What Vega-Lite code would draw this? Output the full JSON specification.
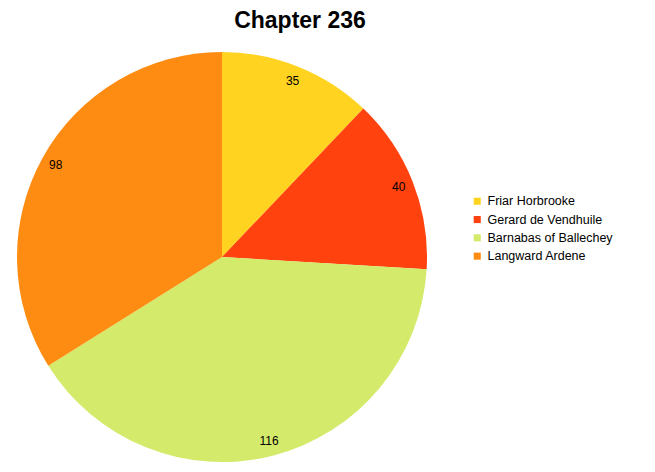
{
  "$schema": "https://vega.github.io/schema/vega-lite/v6.json",
  "autosize": "none",
  "width": 410,
  "height": 410,
  "padding": {"left": 17, "top": 52, "right": 228, "bottom": 10},
  "background": "white",
  "config": {"view": {"stroke": null}, "font": "Liberation Sans"},
  "title": {
    "text": "Chapter 236",
    "fontSize": 23,
    "fontWeight": "bold",
    "font": "Liberation Sans",
    "color": "#000000",
    "anchor": "middle",
    "dx": 78,
    "offset": 19
  },
  "data": {
    "values": [
      {"name": "Friar Horbrooke", "value": 35, "order": 1},
      {"name": "Gerard de Vendhuile", "value": 40, "order": 2},
      {"name": "Barnabas of Ballechey", "value": 116, "order": 3},
      {"name": "Langward Ardene", "value": 98, "order": 4}
    ]
  },
  "encoding": {
    "theta": {"field": "value", "type": "quantitative", "stack": true},
    "order": {"field": "order", "type": "quantitative"}
  },
  "layer": [
    {
      "mark": {"type": "arc"},
      "encoding": {
        "color": {
          "field": "name",
          "type": "nominal",
          "sort": ["Friar Horbrooke", "Gerard de Vendhuile", "Barnabas of Ballechey", "Langward Ardene"],
          "scale": {
            "domain": ["Friar Horbrooke", "Gerard de Vendhuile", "Barnabas of Ballechey", "Langward Ardene"],
            "range": ["#FFD320", "#FF420E", "#D4EA6B", "#FF8C12"]
          },
          "legend": {
            "title": null,
            "orient": "none",
            "legendX": 454,
            "legendY": 143,
            "symbolType": "square",
            "symbolSize": 50,
            "symbolStrokeWidth": 0,
            "labelFontSize": 12.5,
            "labelFont": "Liberation Sans",
            "labelColor": "#000000",
            "rowPadding": 5.3,
            "labelOffset": 4
          }
        }
      }
    },
    {
      "mark": {"type": "text", "radius": 190, "fontSize": 12, "font": "Liberation Sans", "color": "#000000"},
      "encoding": {
        "text": {"field": "value", "type": "quantitative"}
      }
    }
  ]
}
